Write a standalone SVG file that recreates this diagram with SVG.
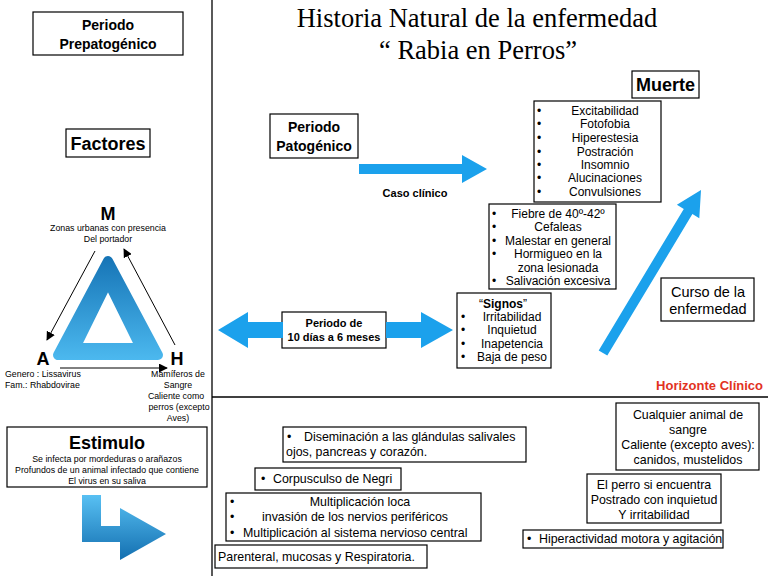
<svg xmlns="http://www.w3.org/2000/svg" width="768" height="576" viewBox="0 0 768 576">
<style>
text{font-family:"Liberation Sans",Arial,sans-serif;fill:#000}
.box{fill:#fff;stroke:#000;stroke-width:1.2}
.b{font-weight:bold}
.c{text-anchor:middle}
.s9{font-size:8.8px}
.s11{font-size:11px}
.s12{font-size:12px}
.s13{font-size:12.4px}
.s14{font-size:14px}
.s18{font-size:18px}
.serif{font-family:"Liberation Serif","Times New Roman",serif;font-size:26.5px}
.line{stroke:#000;stroke-width:1.3;fill:none}
.thin{stroke:#000;stroke-width:1;fill:none}
.blue{fill:#1BA1EC}
</style>
<defs>
<linearGradient id="tri" gradientUnits="userSpaceOnUse" x1="0" y1="255" x2="0" y2="362">
<stop offset="0" stop-color="#1573B5"/><stop offset="1" stop-color="#4DBAF0"/>
</linearGradient>
<linearGradient id="bent" gradientUnits="userSpaceOnUse" x1="0" y1="495" x2="0" y2="560">
<stop offset="0" stop-color="#58C0F3"/><stop offset="1" stop-color="#136FB0"/>
</linearGradient>
<marker id="ah" viewBox="0 0 10 10" refX="9" refY="5" markerWidth="9" markerHeight="9" markerUnits="userSpaceOnUse" orient="auto">
<path d="M0,0 L10,5 L0,10 Z" fill="#000"/>
</marker>
</defs>

<g id="dividers">
<line class="line" x1="212" y1="0" x2="212" y2="576"/>
<line class="line" x1="212" y1="397" x2="768" y2="397"/>
</g>

<g id="title">
<text class="serif c" x="477" y="27">Historia Natural de la enfermedad</text>
<text class="serif c" x="478" y="59">“ Rabia en Perros”</text>
</g>

<g id="prepatogenico">
<rect class="box" x="33" y="12" width="150" height="43"/>
<text class="b c s14" x="108" y="30">Periodo</text>
<text class="b c s14" x="108" y="49">Prepatogénico</text>
</g>

<g id="factores">
<rect class="box" x="66" y="129" width="84" height="28"/>
<text class="b c s18" x="108" y="149.5">Factores</text>
</g>

<g id="triada">
<path d="M108,261 L58,355 L158,355 Z M108,281 L75,348 L141,348 Z" fill="url(#tri)" fill-rule="evenodd" stroke="url(#tri)" stroke-width="10" stroke-linejoin="round"/>
</g>

<g id="M">
<text class="b c s18" x="108" y="219.5">M</text>
<text class="c s9" x="108" y="231">Zonas urbanas con presencia</text>
<text class="c s9" x="108" y="242">Del portador</text>
</g>

<g id="A">
<text class="b c s18" x="43" y="364.5">A</text>
<text class="s9" x="5" y="376.5">Genero : Lissavirus</text>
<text class="s9" x="5" y="387.5">Fam.: Rhabdovirae</text>
</g>

<g id="H">
<text class="b c s18" x="177" y="364.5">H</text>
<text class="c s9" x="178" y="376.5">Mamíferos de</text>
<text class="c s9" x="178" y="387.5">Sangre</text>
<text class="c s9" x="176" y="398.5">Caliente como</text>
<text class="c s9" x="179" y="409.5">perros (excepto</text>
<text class="c s9" x="178" y="420.5">Aves)</text>
</g>

<g id="estimulo">
<rect class="box" x="7" y="427" width="200" height="60"/>
<text class="b c s18" x="107" y="448.5">Estimulo</text>
<text class="c s9" x="107" y="462">Se infecta por mordeduras o arañazos</text>
<text class="c s9" x="107" y="473">Profundos de un animal infectado que contiene</text>
<text class="c s9" x="107" y="484">El virus en su saliva</text>
</g>

<g id="patogenico">
<rect class="box" x="270" y="114" width="88" height="44"/>
<text class="b c s14" x="314" y="132">Periodo</text>
<text class="b c s14" x="314" y="151">Patogénico</text>
</g>

<g id="muerte">
<rect class="box" x="632" y="71" width="67" height="27"/>
<text class="b c s18" x="665.5" y="91">Muerte</text>
</g>

<g id="sintomas">
<rect class="box" x="534" y="101" width="127" height="101"/>
<g class="s12">
<text x="537" y="115">•</text><text x="537" y="128">•</text><text x="537" y="142">•</text><text x="537" y="156">•</text><text x="537" y="169">•</text><text x="537" y="182">•</text><text x="537" y="196">•</text>
<text class="c" x="605" y="115">Excitabilidad</text>
<text class="c" x="605" y="128">Fotofobia</text>
<text class="c" x="605" y="142">Hiperestesia</text>
<text class="c" x="605" y="156">Postración</text>
<text class="c" x="605" y="169">Insomnio</text>
<text class="c" x="605" y="182">Alucinaciones</text>
<text class="c" x="605" y="196">Convulsiones</text>
</g>
</g>

<g id="fiebre">
<rect class="box" x="489" y="204" width="127" height="85"/>
<g class="s12">
<text x="492" y="218">•</text><text x="492" y="231">•</text><text x="492" y="245">•</text><text x="492" y="258">•</text><text x="492" y="285">•</text>
<text class="c" x="558" y="218">Fiebre de 40º-42º</text>
<text class="c" x="558" y="231">Cefaleas</text>
<text class="c" x="558" y="245">Malestar en general</text>
<text class="c" x="558" y="258">Hormigueo en la</text>
<text class="c" x="558" y="272">zona lesionada</text>
<text class="c" x="558" y="285">Salivación excesiva</text>
</g>
</g>

<g id="signos">
<rect class="box" x="457" y="293" width="94" height="75"/>
<g class="s12">
<text class="c" x="503" y="308">“<tspan class="b">Signos</tspan>”</text>
<text x="461" y="321">•</text><text x="461" y="334">•</text><text x="461" y="348">•</text><text x="461" y="361">•</text>
<text class="c" x="512" y="321">Irritabilidad</text>
<text class="c" x="512" y="334">Inquietud</text>
<text class="c" x="512" y="348">Inapetencia</text>
<text class="c" x="512" y="361">Baja de peso</text>
</g>
</g>

<g id="curso">
<rect class="box" x="661" y="278" width="93" height="43"/>
<text class="c" x="708" y="296.5" style="font-size:14.5px">Curso de la</text>
<text class="c" x="708" y="313.5" style="font-size:14.5px">enfermedad</text>
</g>

<g id="periodo-incubacion">
<rect class="box" x="282" y="312" width="104" height="36"/>
<text class="b c s11" x="334" y="327">Periodo de</text>
<text class="b c s11" x="334" y="341">10 días a 6 meses</text>
</g>

<g id="horizonte">
<text class="b" x="763" y="389.5" style="font-size:13px;fill:#E2321F;text-anchor:end">Horizonte Clínico</text>
</g>

<g id="diseminacion">
<rect class="box" x="283" y="427" width="243" height="35"/>
<text class="s13" x="287" y="441">•</text>
<text class="s13" x="304" y="441">Diseminación a las glándulas salivales</text>
<text class="s13" x="286" y="456">ojos, pancreas y corazón.</text>
</g>

<g id="negri">
<rect class="box" x="255" y="468" width="146" height="22"/>
<text class="s13" x="261" y="483">•</text>
<text class="s13" x="273" y="483">Corpusculso de Negri</text>
</g>

<g id="multiplicacion">
<rect class="box" x="226" y="493" width="255" height="48"/>
<text class="s13" x="230" y="506">•</text><text class="s13" x="230" y="521">•</text><text class="s13" x="230" y="537">•</text>
<text class="s13 c" x="360" y="506">Multiplicación loca</text>
<text class="s13 c" x="355" y="521">invasión de los nervios periféricos</text>
<text class="s13" x="243" y="537">Multiplicación al sistema nervioso central</text>
</g>

<g id="parenteral">
<rect class="box" x="215" y="545" width="212" height="23"/>
<text class="s13" x="218" y="561">Parenteral, mucosas y Respiratoria.</text>
</g>

<g id="huesped">
<rect class="box" x="616" y="403" width="143" height="67"/>
<text class="s13 c" x="688" y="419">Cualquier animal de</text>
<text class="s13 c" x="688" y="434">sangre</text>
<text class="s13 c" x="688" y="449">Caliente (excepto aves):</text>
<text class="s13 c" x="688" y="464">canidos, mustelidos</text>
</g>

<g id="perro">
<rect class="box" x="587" y="474" width="134" height="49"/>
<text class="s13 c" x="654" y="489">El perro si encuentra</text>
<text class="s13 c" x="654" y="504">Postrado con inquietud</text>
<text class="s13 c" x="654" y="519">Y irritabilidad</text>
</g>

<g id="hiperactividad">
<rect class="box" x="523" y="530" width="200" height="18"/>
<text class="s13" x="527" y="543">•</text>
<text class="s13" x="539" y="543">Hiperactividad motora y agitación</text>
</g>

<g id="connectors">
<line class="thin" x1="95" y1="251" x2="47" y2="340" marker-end="url(#ah)"/>
<line class="thin" x1="175" y1="345" x2="124" y2="249" marker-end="url(#ah)"/>
<line class="thin" x1="60" y1="368" x2="167" y2="368" marker-end="url(#ah)"/>
<polygon class="blue" points="359,164 462,164 462,155 487,169 462,183 462,174 359,174"/>
<text class="b c s11" x="415" y="197">Caso clínico</text>
<polygon class="blue" points="283,322 248,322 248,312 218,330 248,348 248,338 283,338"/>
<polygon class="blue" points="386,322 421,322 421,312 453,330 421,348 421,338 386,338"/>
<polygon class="blue" points="598.7,350.4 683.8,208.9 676.9,204.8 701,190 699.3,218.2 692.4,214.1 607.3,355.6"/>
<path d="M82,495 L101,495 L101,526 L120,526 L120,508 L166,534 L120,560 L120,542 L82,542 Z" fill="url(#bent)"/>
</g>
</svg>
